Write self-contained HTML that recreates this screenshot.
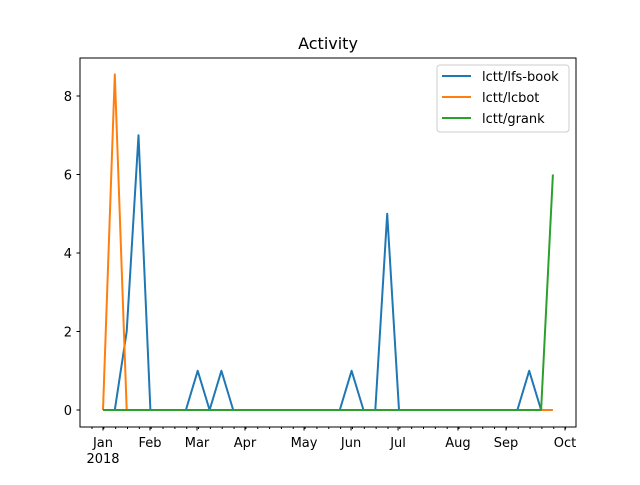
<!DOCTYPE html>
<html><head><meta charset="utf-8"><style>
body{margin:0;background:#fff}
svg text{font-family:"DejaVu Sans","Liberation Sans",sans-serif;}
</style></head><body>
<svg id="chart" width="640" height="480" xmlns="http://www.w3.org/2000/svg">
<rect width="640" height="480" fill="#fff"/>
<text x="328" y="49" font-size="16" text-anchor="middle">Activity</text>
<g id="axes"></g>
<g id="series"></g>
<rect x="80" y="58" width="496" height="369" fill="none" stroke="#000" stroke-width="1"/>
<g>
<rect x="437" y="65" width="132" height="67" rx="3" fill="#fff" fill-opacity="0.8" stroke="#ccc"/>
<line x1="442" y1="76" x2="471" y2="76" stroke="#1f77b4" stroke-width="2"/>
<text x="482" y="81" font-size="13">lctt/lfs-book</text>
<line x1="442" y1="97" x2="471" y2="97" stroke="#ff7f0e" stroke-width="2"/>
<text x="482" y="102" font-size="13">lctt/lcbot</text>
<line x1="442" y1="118" x2="471" y2="118" stroke="#2ca02c" stroke-width="2"/>
<text x="482" y="123" font-size="13">lctt/grank</text>
</g>
</svg>
<script>
const weekIndex = Array.from({length:39},(_,i)=>i);
const lfsBook = [null,0,2,7,0,0,0,0,1,0,1,0,0,0,0,0,0,0,0,0,0,1,0,0,5,0,0,0,0,0,0,0,0,0,0,0,1,0];
const lcbot = [0,8.55,0,0,0,0,0,0,0,0,0,0,0,0,0,0,0,0,0,0,0,0,0,0,0,0,0,0,0,0,0,0,0,0,0,0,0,0,0];
const grank = [0,0,0,0,0,0,0,0,0,0,0,0,0,0,0,0,0,0,0,0,0,0,0,0,0,0,0,0,0,0,0,0,0,0,0,0,0,0,6];
const yTicks = [0,2,4,6,8];
const monthLabels = ["Jan","Feb","Mar","Apr","May","Jun","Jul","Aug","Sep","Oct"];
const monthTickWeeks = [0,3.97,7.94,11.99,16.98,20.95,24.92,29.98,34.04,39.02];

const NS="http://www.w3.org/2000/svg";
const xWeek = w => 103 + w*11.84;
const yVal = v => 410 - v*39.25;
const axes=document.getElementById('axes'), ser=document.getElementById('series');
function mk(tag,attrs,parent){const e=document.createElementNS(NS,tag);for(const k in attrs)e.setAttribute(k,attrs[k]);parent.appendChild(e);return e;}

yTicks.forEach(v=>{
  const y=yVal(v);
  const t=mk('line',{x1:76.5,x2:80,y1:y,y2:y,stroke:'#000'},axes);
  
  
  const l=mk('text',{x:72,y:y+5,'font-size':13,'text-anchor':'end'},axes);
  l.textContent=v;
  
  
});
monthTickWeeks.forEach((w,i)=>{
  const x=xWeek(w);
  const t=mk('line',{x1:x,x2:x,y1:427,y2:430.5,stroke:'#000'},axes);
  
  
  const l=mk('text',{x:x,y:447,'font-size':13,'text-anchor':'middle'},axes);
  l.textContent=monthLabels[i];
  
  
});
for(let w=-0.93;w<=40;w+=1){
  const x=xWeek(w); if(x<80||x>576)continue;
  const t=mk('line',{x1:x,x2:x,y1:427,y2:429,stroke:'#000'},axes);
  
  
}
{const l=mk('text',{x:103,y:463,'font-size':13,'text-anchor':'middle'},axes);l.textContent='2018';

}

function drawSeries(vals,color,name){
  const pts=[];
  vals.forEach((v,i)=>{if(v!==null&&v!==undefined)pts.push(xWeek(weekIndex[i]).toFixed(1)+','+yVal(v).toFixed(1));});
  const p=mk('polyline',{points:pts.join(' '),fill:'none',stroke:color,'stroke-width':2,'stroke-linejoin':'round'},ser);
  
  
}
drawSeries(lfsBook,'#1f77b4','line-lfs-book');
drawSeries(lcbot,'#ff7f0e','line-lcbot');
drawSeries(grank,'#2ca02c','line-grank');
</script>
</body></html>
